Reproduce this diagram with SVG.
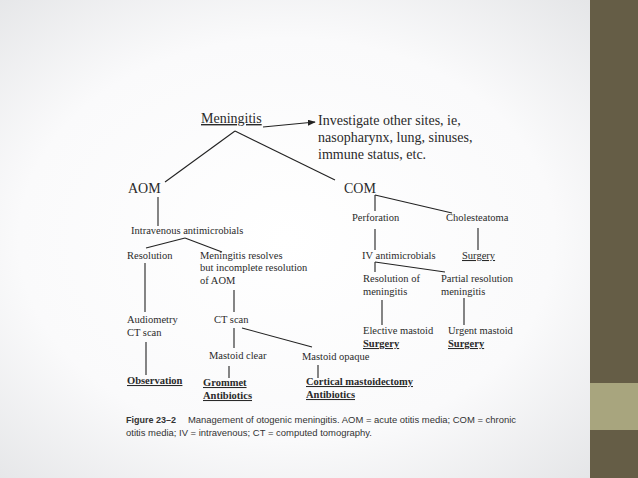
<svg xmlns="http://www.w3.org/2000/svg" width="638" height="478" viewBox="0 0 638 478">
<defs>
<radialGradient id="bg" cx="0.45" cy="0.5" r="0.7">
<stop offset="0" stop-color="#ffffff"/><stop offset="0.6" stop-color="#fafafb"/><stop offset="1" stop-color="#e4e5e7"/>
</radialGradient>
<marker id="ah" viewBox="0 0 10 10" refX="9" refY="5" markerWidth="8" markerHeight="6" orient="auto" markerUnits="userSpaceOnUse" preserveAspectRatio="none">
<path d="M0,0 L10,5 L0,10 Z" fill="#222"/>
</marker>
<style>
text{font-family:"Liberation Serif","Times New Roman",serif;fill:#2a2a2a}
.b{font-size:14px}
.s{font-size:10.5px}
.u{text-decoration:underline}
.bo{font-weight:bold;text-decoration:underline}
.cap{font-family:"Liberation Sans",Arial,sans-serif;font-size:9.5px;fill:#333}
#conn line{stroke:#222;stroke-width:1.1}
</style>
</defs>
<rect width="638" height="478" fill="url(#bg)"/>
<rect x="590" y="0" width="48" height="478" fill="#655d46"/>
<rect x="590" y="383" width="48" height="47" fill="#a8a57e"/>
<g id="conn">
<line x1="263" y1="127" x2="315" y2="122" marker-end="url(#ah)"/>
<line x1="235" y1="131" x2="165" y2="182"/>
<line x1="235" y1="131" x2="335" y2="180"/>
<line x1="158" y1="197" x2="158" y2="226"/>
<line x1="185" y1="238" x2="146" y2="248"/>
<line x1="185" y1="238" x2="222" y2="252"/>
<line x1="375" y1="195" x2="375" y2="211"/>
<line x1="375" y1="195" x2="452" y2="213"/>
<line x1="375" y1="229" x2="375" y2="250"/>
<line x1="478" y1="228" x2="478" y2="250"/>
<line x1="375" y1="262" x2="375" y2="272"/>
<line x1="375" y1="262" x2="445" y2="272"/>
<line x1="382" y1="300" x2="382" y2="325"/>
<line x1="464" y1="298" x2="464" y2="325"/>
<line x1="145" y1="263" x2="145" y2="312"/>
<line x1="146" y1="342" x2="146" y2="375"/>
<line x1="234" y1="290" x2="234" y2="312"/>
<line x1="234" y1="328" x2="234" y2="348"/>
<line x1="242" y1="328" x2="312" y2="347"/>
<line x1="229" y1="366" x2="229" y2="378"/>
<line x1="318" y1="365" x2="318" y2="378"/>
</g>
<g id="meningitis"><text x="201" y="123" class="b u">Meningitis</text></g>
<g id="investigate"><text class="b"><tspan x="318" y="125">Investigate other sites, ie,</tspan><tspan x="318" y="142">nasopharynx, lung, sinuses,</tspan><tspan x="318" y="159">immune status, etc.</tspan></text></g>
<g id="aom"><text x="128" y="193" class="b">AOM</text></g>
<g id="com"><text x="344" y="193" class="b">COM</text></g>
<g id="iv-aom"><text x="131" y="234" class="s">Intravenous antimicrobials</text></g>
<g id="resolution"><text x="127" y="259" class="s">Resolution</text></g>
<g id="men-resolves"><text class="s"><tspan x="200" y="259">Meningitis resolves</tspan><tspan x="200" y="271">but incomplete resolution</tspan><tspan x="200" y="284">of AOM</tspan></text></g>
<g id="perforation"><text x="352" y="221" class="s">Perforation</text></g>
<g id="cholesteatoma"><text x="446" y="221" class="s">Cholesteatoma</text></g>
<g id="iv-com"><text x="362" y="259" class="s">IV antimicrobials</text></g>
<g id="surgery1"><text x="462" y="259" class="s u">Surgery</text></g>
<g id="res-men"><text class="s"><tspan x="363" y="282">Resolution of</tspan><tspan x="363" y="295">meningitis</tspan></text></g>
<g id="partial"><text class="s"><tspan x="441" y="282">Partial resolution</tspan><tspan x="441" y="295">meningitis</tspan></text></g>
<g id="elective"><text x="363" y="334" class="s">Elective mastoid</text><text x="363" y="347" class="s bo">Surgery</text></g>
<g id="urgent"><text x="448" y="334" class="s">Urgent mastoid</text><text x="448" y="347" class="s bo">Surgery</text></g>
<g id="audiometry"><text class="s"><tspan x="127" y="323">Audiometry</tspan><tspan x="127" y="336">CT scan</tspan></text></g>
<g id="observation"><text x="127" y="384" class="s bo">Observation</text></g>
<g id="ctscan"><text x="214" y="323" class="s">CT scan</text></g>
<g id="clear"><text x="209" y="359" class="s">Mastoid clear</text></g>
<g id="opaque"><text x="302" y="360" class="s">Mastoid opaque</text></g>
<g id="grommet"><text x="203" y="386" class="s bo">Grommet</text><text x="203" y="399" class="s bo">Antibiotics</text></g>
<g id="cortical"><text x="306" y="385" class="s bo">Cortical mastoidectomy</text><text x="306" y="398" class="s bo">Antibiotics</text></g>
<g id="caption">
<text class="cap" x="126" y="423" font-weight="bold" textLength="50" lengthAdjust="spacingAndGlyphs">Figure 23–2</text>
<text class="cap" x="188" y="423" textLength="328" lengthAdjust="spacingAndGlyphs">Management of otogenic meningitis. AOM = acute otitis media; COM = chronic</text>
<text class="cap" x="126" y="436" textLength="246" lengthAdjust="spacingAndGlyphs">otitis media; IV = intravenous; CT = computed tomography.</text>
</g>
</svg>
